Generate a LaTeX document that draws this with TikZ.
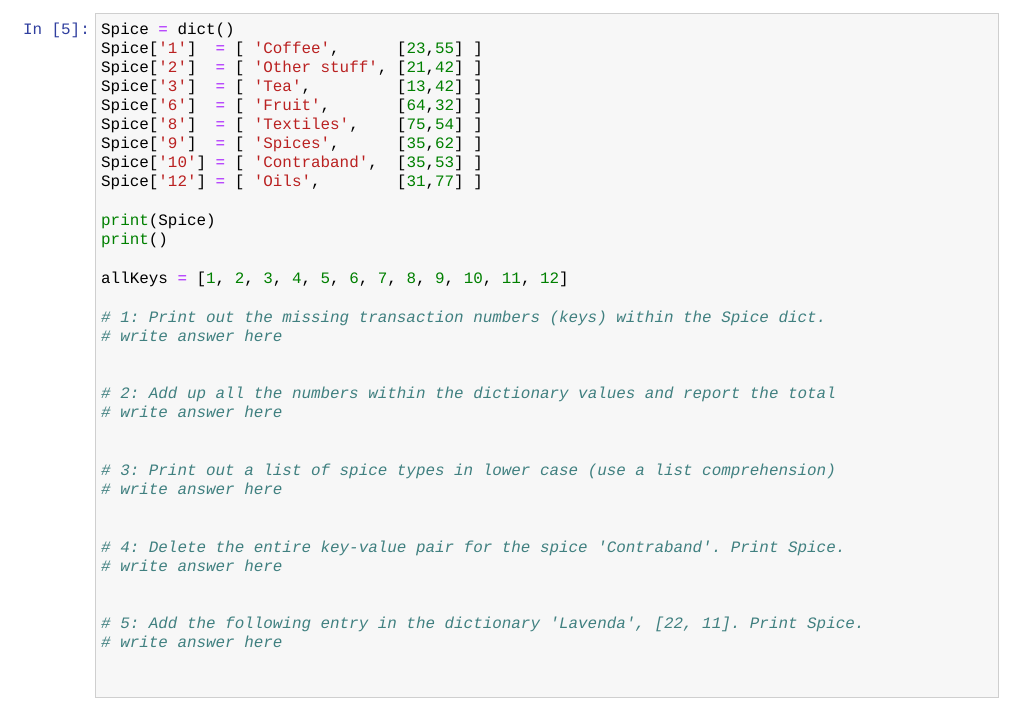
\documentclass[tikz,border=0pt]{standalone}
\usepackage{fontspec}
\setmonofont{Liberation Mono}
\setmainfont{Liberation Mono}
\definecolor{strc}{HTML}{BA2121}
\definecolor{numc}{HTML}{008000}
\definecolor{opc}{HTML}{AA22FF}
\definecolor{cmc}{HTML}{408080}
\definecolor{promptc}{HTML}{303F9F}
\newcommand\st[1]{\textcolor{strc}{#1}}
\newcommand\nm[1]{\textcolor{numc}{#1}}
\newcommand\op{\textcolor{opc}{=}}
\newcommand\fn[1]{\textcolor{numc}{#1}}
\newcommand\cm[1]{\textcolor{cmc}{\itshape #1}}
\begin{document}
\begin{tikzpicture}[x=1pt,y=-1pt,
  code/.style={anchor=base west,inner sep=0pt,font=\ttfamily\fontsize{15.9}{19}\selectfont}]
\useasboundingbox (0,0) rectangle (1024,702);
\fill[white] (0,0) rectangle (1024,702);
\draw[fill={rgb,255:red,247;green,247;blue,247},draw={rgb,255:red,207;green,207;blue,207}] (95.5,13.5) rectangle (998.5,697.5);
\node[code,anchor=base east,text=promptc] (p) at (90,34) {In~[5]:};
\node[code] (l1) at (101,34) {Spice~\op~dict()};
\node[code] (l2) at (101,53) {Spice[\st{'1'}]~~\op~[~\st{'Coffee'},~~~~~~[\nm{23},\nm{55}]~]};
\node[code] (l3) at (101,72) {Spice[\st{'2'}]~~\op~[~\st{'Other~stuff'},~[\nm{21},\nm{42}]~]};
\node[code] (l4) at (101,91) {Spice[\st{'3'}]~~\op~[~\st{'Tea'},~~~~~~~~~[\nm{13},\nm{42}]~]};
\node[code] (l5) at (101,110) {Spice[\st{'6'}]~~\op~[~\st{'Fruit'},~~~~~~~[\nm{64},\nm{32}]~]};
\node[code] (l6) at (101,129) {Spice[\st{'8'}]~~\op~[~\st{'Textiles'},~~~~[\nm{75},\nm{54}]~]};
\node[code] (l7) at (101,148) {Spice[\st{'9'}]~~\op~[~\st{'Spices'},~~~~~~[\nm{35},\nm{62}]~]};
\node[code] (l8) at (101,167) {Spice[\st{'10'}]~\op~[~\st{'Contraband'},~~[\nm{35},\nm{53}]~]};
\node[code] (l9) at (101,186) {Spice[\st{'12'}]~\op~[~\st{'Oils'},~~~~~~~~[\nm{31},\nm{77}]~]};
\node[code] (l10) at (101,225) {\fn{print}(Spice)};
\node[code] (l11) at (101,244) {\fn{print}()};
\node[code] (l12) at (101,283) {allKeys~\op~[\nm{1},~\nm{2},~\nm{3},~\nm{4},~\nm{5},~\nm{6},~\nm{7},~\nm{8},~\nm{9},~\nm{10},~\nm{11},~\nm{12}]};
\node[code] (c1) at (101,322) {\cm{\#~1:~Print~out~the~missing~transaction~numbers~(keys)~within~the~Spice~dict.}};
\node[code] (c1b) at (101,341) {\cm{\#~write~answer~here}};
\node[code] (c2) at (101,398) {\cm{\#~2:~Add~up~all~the~numbers~within~the~dictionary~values~and~report~the~total}};
\node[code] (c2b) at (101,417) {\cm{\#~write~answer~here}};
\node[code] (c3) at (101,475) {\cm{\#~3:~Print~out~a~list~of~spice~types~in~lower~case~(use~a~list~comprehension)}};
\node[code] (c3b) at (101,494) {\cm{\#~write~answer~here}};
\node[code] (c4) at (101,552) {\cm{\#~4:~Delete~the~entire~key-value~pair~for~the~spice~'Contraband'.~Print~Spice.}};
\node[code] (c4b) at (101,571) {\cm{\#~write~answer~here}};
\node[code] (c5) at (101,628) {\cm{\#~5:~Add~the~following~entry~in~the~dictionary~'Lavenda',~[22,~11].~Print~Spice.}};
\node[code] (c5b) at (101,647) {\cm{\#~write~answer~here}};
\end{tikzpicture}
\end{document}
